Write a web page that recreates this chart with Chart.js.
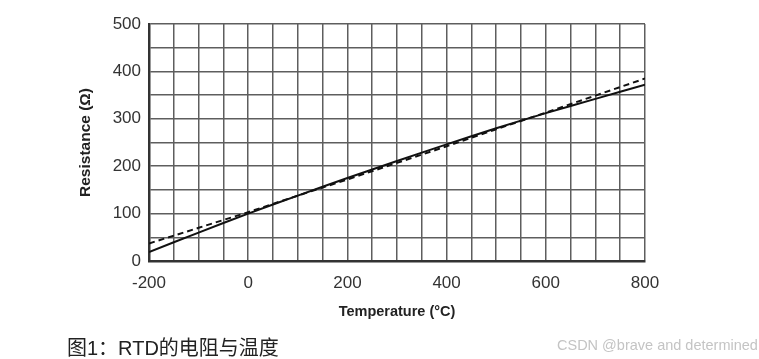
<!DOCTYPE html>
<html>
<head>
<meta charset="utf-8">
<script src="https://cdn.jsdelivr.net/npm/chart.js@4.4.0/dist/chart.umd.min.js"></script>
<style>
  html, body { margin: 0; padding: 0; background: #fff; }
  #wrap { position: relative; width: 759px; height: 359px; }
  #caption { position: absolute; left: 67px; top: 335px; font: 20px "Liberation Sans", "Noto Sans CJK SC", sans-serif; color: #222; line-height: 26px; white-space: nowrap; }
  #mark { position: absolute; left: 557px; top: 336px; font: 14.5px "Liberation Sans", sans-serif; color: #c4c4c4; line-height: 18px; white-space: nowrap; }
</style>
</head>
<body>
<div id="wrap">
  <canvas id="myChart" width="759" height="359"></canvas>
  <div id="caption">图1：RTD的电阻与温度</div>
  <div id="mark">CSDN @brave and determined</div>
</div>
<script>
// temperature (°C) vs resistance (Ω)
const temps = [-200, -100, 0, 100, 200, 300, 400, 500, 600, 700, 800];
const actualR = [19, 60, 100, 138, 175, 211, 246, 280, 312, 342, 372];
const linearR = [37, 70, 103, 138, 172, 207, 242, 278, 313, 349, 385];
const xTickLabels = [-200, 0, 200, 400, 600, 800];
const yTickLabels = [0, 100, 200, 300, 400, 500];

const fontFamily = "'Liberation Sans', Arial, sans-serif";

function toPoints(xs, ys) {
  return xs.map(function (x, i) { return { x: x, y: ys[i] }; });
}

const ctx = document.getElementById('myChart');
new Chart(ctx, {
  type: 'scatter',
  data: {
    datasets: [{
      label: 'Actual',
      data: toPoints(temps, actualR),
      showLine: true,
      borderColor: '#111',
      borderWidth: 2,
      pointRadius: 0,
      tension: 0.3
    }, {
      label: 'Linear',
      data: toPoints(temps, linearR),
      showLine: true,
      borderColor: '#111',
      borderWidth: 2,
      borderDash: [6, 4],
      pointRadius: 0
    }]
  },
  options: {
    responsive: false,
    animation: false,
    layout: { padding: { left: 70, top: 24, right: 114, bottom: 34 } },
    plugins: { legend: { display: false }, tooltip: { enabled: false } },
    scales: {
      x: {
        type: 'linear',
        min: -200,
        max: 800,
        afterFit: function (s) { s.height = 64; },
        ticks: {
          stepSize: 50,
          autoSkip: false,
          maxRotation: 0,
          padding: 12,
          color: '#333',
          font: { family: fontFamily, size: 17 },
          callback: function (v) { return xTickLabels.includes(v) ? String(v) : ''; }
        },
        grid: { color: '#5e5e5e', lineWidth: 1.5, drawTicks: false },
        border: { color: '#333', width: 2.5 },
        title: {
          display: true,
          text: 'Temperature (°C)',
          color: '#222',
          padding: { top: 0, bottom: 4 },
          font: { family: fontFamily, size: 14.5, weight: 'bold' }
        }
      },
      y: {
        min: 0,
        max: 500,
        afterFit: function (s) { s.width = 79; },
        ticks: {
          stepSize: 50,
          autoSkip: false,
          padding: 8,
          color: '#333',
          font: { family: fontFamily, size: 17 },
          callback: function (v) { return yTickLabels.includes(v) ? String(v) : ''; }
        },
        grid: { color: '#5e5e5e', lineWidth: 1.5, drawTicks: false },
        border: { color: '#333', width: 2.5 },
        title: {
          display: true,
          text: 'Resistance (Ω)',
          color: '#222',
          padding: { top: 6, bottom: 0 },
          font: { family: fontFamily, size: 15.5, weight: 'bold' }
        }
      }
    }
  }
});
</script>
</body>
</html>
